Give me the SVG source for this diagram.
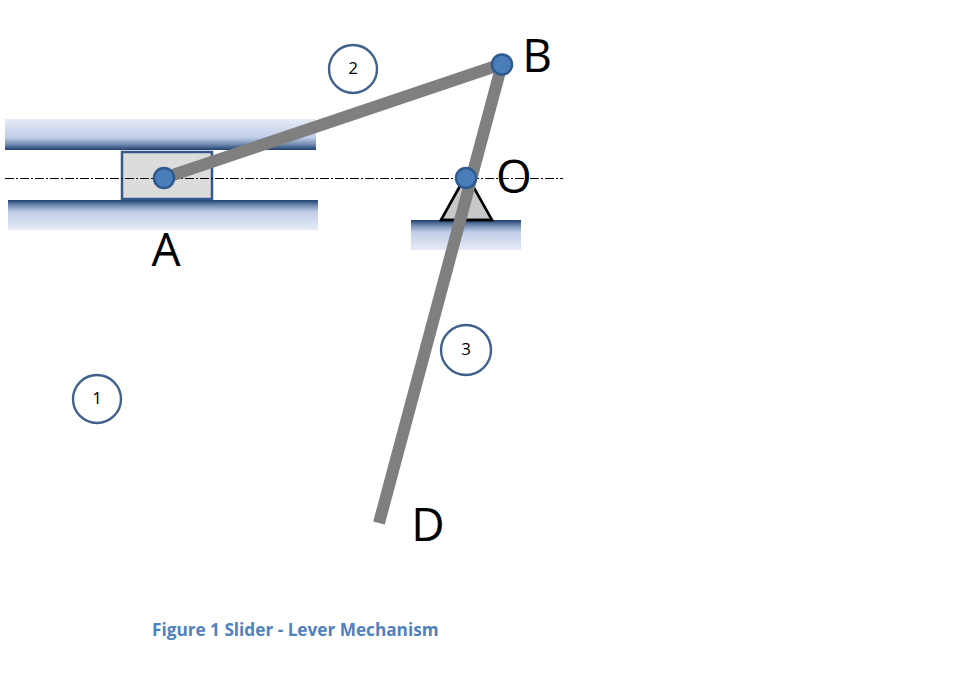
<svg xmlns="http://www.w3.org/2000/svg" width="960" height="673" viewBox="0 0 960 673">
<style>
.lab{font-family:"Open Sans","Noto Sans","Liberation Sans",sans-serif;fill:#000;font-size:46px;text-anchor:middle}
.num{font-family:"Open Sans","Noto Sans","Liberation Sans",sans-serif;fill:#000;font-size:17px;text-anchor:middle}
.ring{fill:#fff;stroke:#41618c;stroke-width:2.4}
.pin{fill:#4a7ebb;stroke:#2f5a8f;stroke-width:2.5}
.bar{stroke:#7f7f7f;stroke-width:12;fill:none}
</style>
<defs>
<linearGradient id="gd" x1="0" y1="0" x2="0" y2="1"><stop offset="0" stop-color="#e6ebf6"/><stop offset="0.6" stop-color="#c0cde8"/><stop offset="0.8" stop-color="#7a93b8"/><stop offset="1" stop-color="#1f3f6e"/></linearGradient>
<linearGradient id="gu" x1="0" y1="1" x2="0" y2="0"><stop offset="0" stop-color="#e6ebf6"/><stop offset="0.6" stop-color="#c0cde8"/><stop offset="0.8" stop-color="#7a93b8"/><stop offset="1" stop-color="#1f3f6e"/></linearGradient>
</defs>
<rect width="960" height="673" fill="#fff"/>
<g id="frame">
<rect x="5" y="119" width="311" height="31" fill="url(#gd)"/>
<rect x="8" y="200" width="310" height="30" fill="url(#gu)"/>
<rect x="411" y="220" width="110" height="30" fill="url(#gu)"/>
</g>
<g id="slider"><rect x="122" y="152" width="90" height="47" fill="#dcdcdc" stroke="#34598a" stroke-width="2.5"/></g>
<g id="axis"><path d="M5 178.500H563" stroke="#000" stroke-width="1" stroke-dasharray="9 2 2 2" fill="none"/></g>
<g id="support"><path d="M460 186L441 220H492L473 186Z" fill="#c8c8c8" stroke="#000" stroke-width="2.6"/><path d="M440 220H493" stroke="#000" stroke-width="2.5"/></g>
<g id="connectors">
<path class="bar" d="M164 178L502 64"/>
<path class="bar" d="M502 64L379 523"/>
</g>
<g id="pin-a"><circle class="pin" cx="164" cy="178" r="10"/></g>
<g id="pin-b"><circle class="pin" cx="502" cy="64.500" r="10"/></g>
<g id="pin-o"><circle class="pin" cx="466" cy="178" r="10"/></g>
<g id="label-a"><text class="lab" x="166" y="266">A</text></g>
<g id="label-b"><text class="lab" x="537" y="72">B</text></g>
<g id="label-o"><text class="lab" x="514" y="193">O</text></g>
<g id="label-d"><text class="lab" x="428" y="541">D</text></g>
<g id="link-1"><circle class="ring" cx="97" cy="399" r="24"/><text class="num" x="97" y="404">1</text></g>
<g id="link-2"><circle class="ring" cx="353" cy="69" r="24"/><text class="num" x="353" y="74">2</text></g>
<g id="link-3"><circle class="ring" cx="466" cy="350" r="25"/><text class="num" x="466" y="355">3</text></g>
<g id="caption"><text x="152" y="636" font-family="'Open Sans','Noto Sans','Liberation Sans',sans-serif" font-weight="700" font-size="17.200px" fill="#4f81bd">Figure 1 Slider - Lever Mechanism</text></g>
</svg>
